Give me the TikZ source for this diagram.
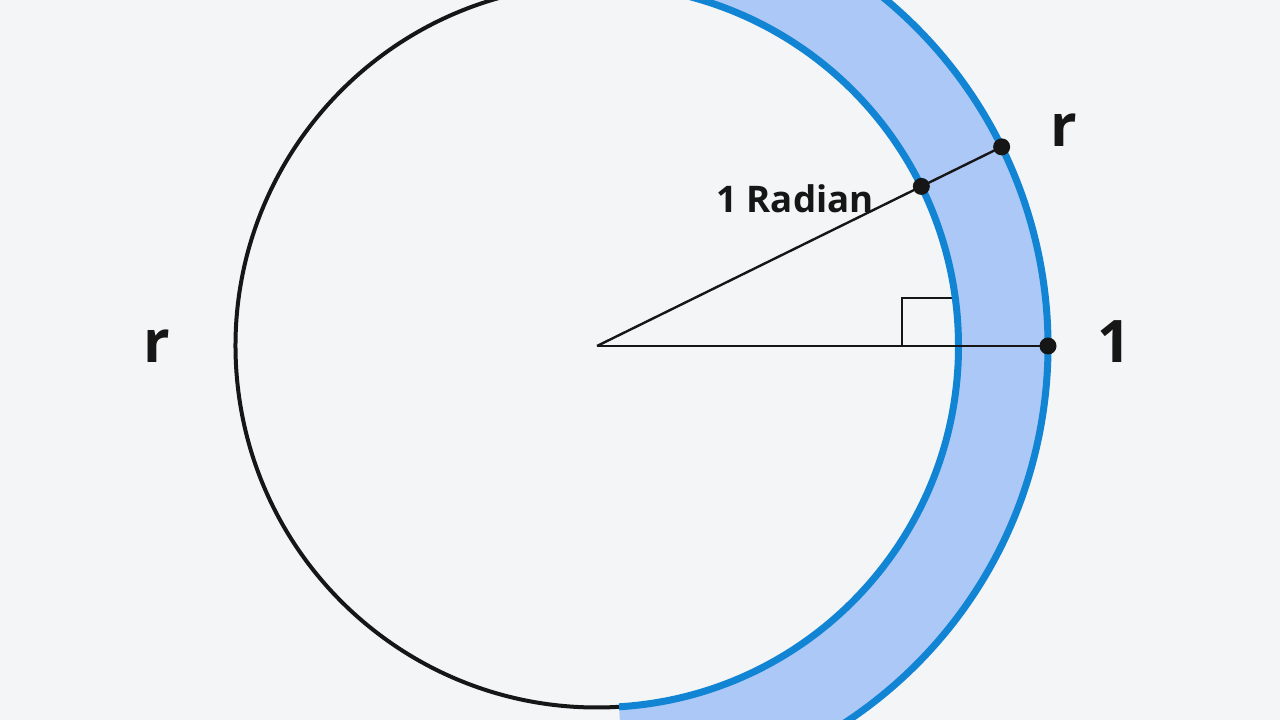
\documentclass[tikz,border=0pt]{standalone}
\usepackage{fontspec}
\setmainfont{Open Sans}
\usetikzlibrary{calc}
\definecolor{bgcol}{RGB}{244,245,246}
\definecolor{bandfill}{RGB}{172,200,246}
\definecolor{arcblue}{RGB}{18,132,212}
\definecolor{inkcol}{RGB}{22,22,22}
\tikzset{
  blackarc/.style={draw=inkcol, line width=3pt},
  bluearc/.style={draw=arcblue, line width=5.25pt},
  thinline/.style={draw=inkcol, line width=1.8pt},
  dotmark/.style={fill=inkcol},
  biglabel/.style={text=inkcol, font=\fontsize{44}{50}\selectfont\bfseries, inner sep=0pt, anchor=base},
  radlabel/.style={text=inkcol, font=\fontsize{27.5}{32}\selectfont\bfseries, inner sep=0pt, anchor=base}
}
\begin{document}
\begin{tikzpicture}[x=0.75pt,y=0.75pt]
\useasboundingbox (0,0) rectangle (1280,720);
\fill[bgcol] (0,0) rectangle (1280,720);
\clip (0,0) rectangle (1280,720);
\coordinate (O) at (597,374);
\def\rin{361.5}
\def\rout{451}
\def\ang{26.2}
% band
\fill[bandfill] ($(O)+(-86.5:\rin)$) arc[start angle=-86.5, end angle=100, radius=\rin]
  -- ($(O)+(100:\rout)$) arc[start angle=100, end angle=-86.5, radius=\rout] -- cycle;
% black part of circle
\draw[blackarc] ($(O)+(95:\rin)$) arc[start angle=95, end angle=273.5, radius=\rin];
% right-angle marker
\coordinate (ra1) at (902,374);
\coordinate (ra2) at (902,422);
\coordinate (ra3) at (954,422);
\draw[thinline] (ra1) -- (ra2) -- (ra3);
% blue arcs
\draw[bluearc] ($(O)+(-86.5:\rin)$) arc[start angle=-86.5, end angle=96, radius=\rin];
\draw[bluearc] ($(O)+(-100:\rout)$) arc[start angle=-100, end angle=100, radius=\rout];
% points
\coordinate (P1) at ($(O)+(0:\rout)$);
\coordinate (P2) at ($(O)+(\ang:\rin)$);
\coordinate (P3) at ($(O)+(\ang:\rout)$);
\draw[thinline] (O) -- (P1);
\draw[thinline] (O) -- (P3);
\fill[dotmark] (P1) circle (8.5);
\fill[dotmark] (P2) circle (8.5);
\fill[dotmark] (P3) circle (8.5);
% labels
\node[radlabel] (lrad) at (795,507) {1 Radian};
\node[biglabel] (lrleft) at (157,357) {r};
\node[biglabel] (lrright) at (1064,573) {r};
\node[biglabel] (lone) at (1114,357) {1};
\end{tikzpicture}
\end{document}
